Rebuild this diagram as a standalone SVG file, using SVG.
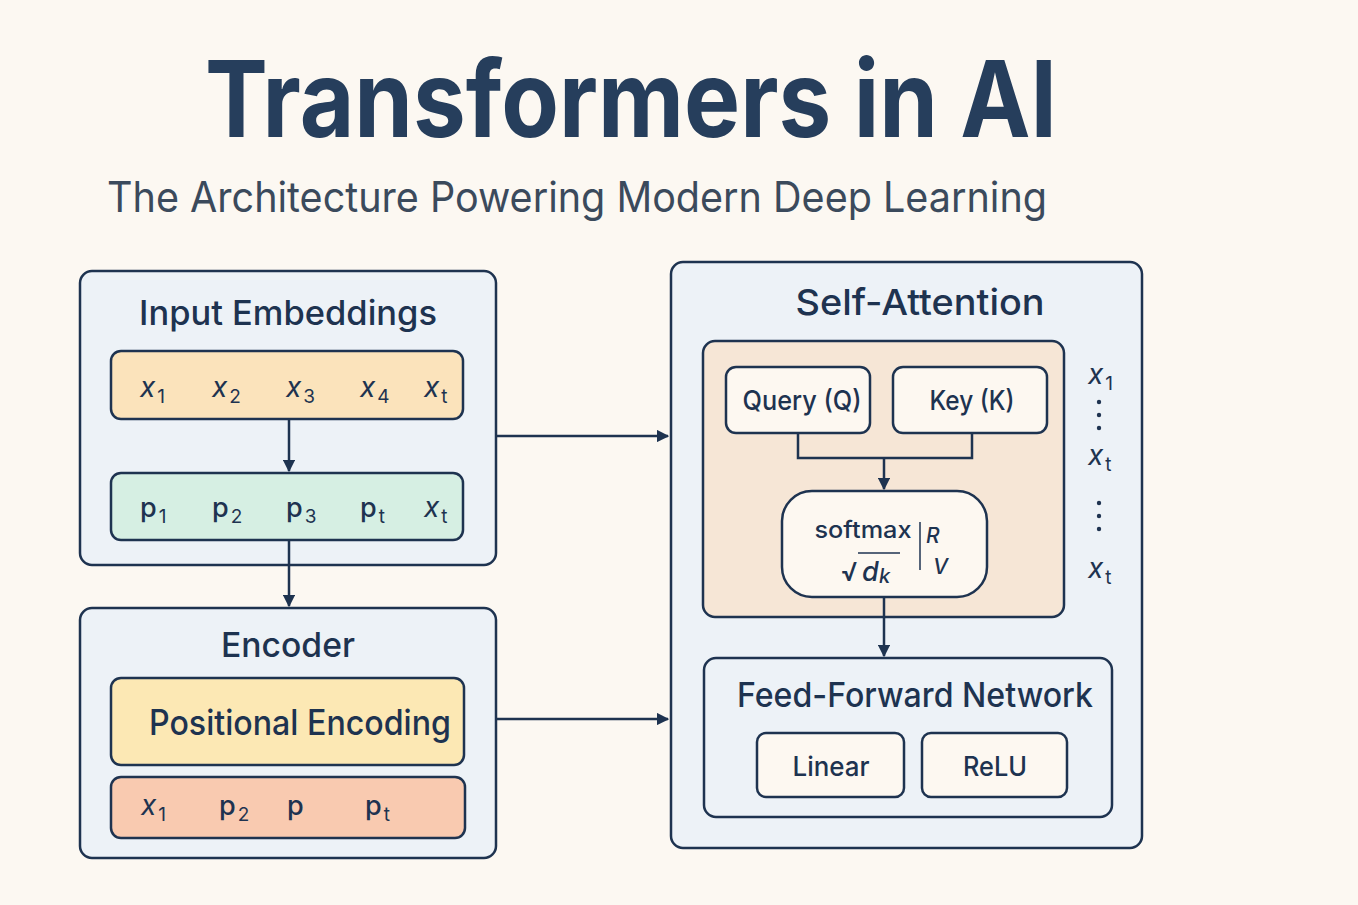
<svg xmlns="http://www.w3.org/2000/svg" width="1358" height="905" viewBox="0 0 1358 905">
<defs>
<marker id="arr" viewBox="0 0 10 10" refX="9" refY="5" markerWidth="5" markerHeight="5" orient="auto" markerUnits="strokeWidth">
<path d="M0,0 L10,5 L0,10 z" fill="#1e3350"/>
</marker>
<style>
.t{font-family:Inter,"Open Sans","Liberation Sans",sans-serif;fill:#1e3350;font-weight:500}
.panel{fill:#edf2f7;stroke:#1e3350;stroke-width:2.5}
.box{stroke:#1e3350;stroke-width:2.5}
.conn{stroke:#1e3350;stroke-width:2.5;fill:none}
.h{font-size:34px;text-anchor:middle}
.m{font-size:27px}
.var{font-size:28px;font-style:italic;font-weight:400}
.sub{font-size:19px;font-weight:400}
</style>
</defs>
<rect width="1358" height="905" fill="#fcf8f2"/>
<text class="t" x="631" y="137" font-size="106" text-anchor="middle" textLength="852" lengthAdjust="spacingAndGlyphs" style="fill:#263e5c;font-weight:700">Transformers in AI</text>
<text class="t" x="107" y="212" font-size="42" textLength="940" lengthAdjust="spacingAndGlyphs" style="fill:#3b4a5c;font-weight:400">The Architecture Powering Modern Deep Learning</text>

<g id="input-embeddings">
<rect class="panel" x="80" y="271" width="416" height="294" rx="12"/>
<text class="t h" x="288" y="325" textLength="298" lengthAdjust="spacingAndGlyphs">Input Embeddings</text>
<rect class="box" x="111" y="351" width="352" height="68" rx="10" fill="#fbe3bb"/>
<text class="t" y="397"><tspan class="var" x="140">x</tspan><tspan class="sub" dx="2" dy="6">1</tspan><tspan class="var" x="212" dy="-6">x</tspan><tspan class="sub" dx="2" dy="6">2</tspan><tspan class="var" x="286" dy="-6">x</tspan><tspan class="sub" dx="2" dy="6">3</tspan><tspan class="var" x="360" dy="-6">x</tspan><tspan class="sub" dx="2" dy="6">4</tspan><tspan class="var" x="424" dy="-6">x</tspan><tspan class="sub" dx="2" dy="6">t</tspan></text>
<rect class="box" x="111" y="473" width="352" height="67" rx="10" fill="#d6efe3"/>
<text class="t" y="517"><tspan class="m" x="140">p</tspan><tspan class="sub" dx="2" dy="6">1</tspan><tspan class="m" x="212" dy="-6">p</tspan><tspan class="sub" dx="2" dy="6">2</tspan><tspan class="m" x="286" dy="-6">p</tspan><tspan class="sub" dx="2" dy="6">3</tspan><tspan class="m" x="360" dy="-6">p</tspan><tspan class="sub" dx="2" dy="6">t</tspan><tspan class="var" x="424" dy="-6">x</tspan><tspan class="sub" dx="2" dy="6">t</tspan></text>
</g>

<g id="encoder">
<rect class="panel" x="80" y="608" width="416" height="250" rx="12"/>
<text class="t h" x="288" y="657" textLength="134" lengthAdjust="spacingAndGlyphs">Encoder</text>
<rect class="box" x="111" y="678" width="353" height="87" rx="10" fill="#fce8b4"/>
<text class="t" x="149" y="735" font-size="35" textLength="302" lengthAdjust="spacingAndGlyphs">Positional Encoding</text>
<rect class="box" x="111" y="777" width="354" height="61" rx="10" fill="#f9cab0"/>
<text class="t" y="815"><tspan class="var" x="141">x</tspan><tspan class="sub" dx="2" dy="6">1</tspan><tspan class="m" x="219" dy="-6">p</tspan><tspan class="sub" dx="2" dy="6">2</tspan><tspan class="m" x="287" dy="-6">p</tspan><tspan class="m" x="365">p</tspan><tspan class="sub" dx="2" dy="6">t</tspan></text>
</g>

<g id="self-attention">
<rect class="panel" x="671" y="262" width="471" height="586" rx="12"/>
<text class="t" x="920" y="315" font-size="36" text-anchor="middle" textLength="249" lengthAdjust="spacingAndGlyphs">Self-Attention</text>
<rect class="box" x="703" y="341" width="361" height="276" rx="12" fill="#f6e6d6"/>
<text class="t"><tspan class="var" x="1088" y="384">x</tspan><tspan class="sub" dx="2" dy="6">1</tspan></text>
<text class="t"><tspan class="var" x="1088" y="465">x</tspan><tspan class="sub" dx="2" dy="6">t</tspan></text>
<text class="t"><tspan class="var" x="1088" y="578">x</tspan><tspan class="sub" dx="2" dy="6">t</tspan></text>
<g fill="#1e3350">
<circle cx="1099" cy="402" r="2.2"/><circle cx="1099" cy="415" r="2.2"/><circle cx="1099" cy="428" r="2.2"/>
<circle cx="1099" cy="503" r="2.2"/><circle cx="1099" cy="516" r="2.2"/><circle cx="1099" cy="529" r="2.2"/>
</g>
</g>

<g id="query">
<rect class="box" x="726" y="367" width="144" height="66" rx="10" fill="#fdf8f1"/>
<text class="t m" x="802" y="410" text-anchor="middle" textLength="119" lengthAdjust="spacingAndGlyphs">Query (Q)</text>
</g>
<g id="key">
<rect class="box" x="893" y="367" width="154" height="66" rx="10" fill="#fdf8f1"/>
<text class="t m" x="972" y="410" text-anchor="middle" textLength="85" lengthAdjust="spacingAndGlyphs">Key (K)</text>
</g>
<g id="softmax">
<rect class="box" x="782" y="491" width="205" height="106" rx="30" fill="#fdf8f1"/>
<text class="t" x="863" y="538" font-size="24" text-anchor="middle" textLength="97" lengthAdjust="spacingAndGlyphs">softmax</text>
<text class="t" x="841" y="581" font-size="26">√</text>
<line x1="858" y1="553" x2="900" y2="553" stroke="#1e3350" stroke-width="1.5"/>
<text class="t" x="862" y="581" font-size="27" font-style="italic" font-weight="400">d</text>
<text class="t" x="879" y="583" font-size="20" font-style="italic" font-weight="400">k</text>
<line x1="920" y1="522" x2="920" y2="570" stroke="#1e3350" stroke-width="1.5"/>
<text class="t" x="926" y="543" font-size="21" font-style="italic">R</text>
<text class="t" x="933" y="574" font-size="21" font-style="italic">V</text>
</g>

<g id="feed-forward">
<rect class="box" x="704" y="658" width="408" height="159" rx="12" fill="#edf2f7"/>
<text class="t" x="915" y="707" font-size="34" text-anchor="middle" textLength="356" lengthAdjust="spacingAndGlyphs">Feed-Forward Network</text>
</g>
<g id="linear">
<rect class="box" x="757" y="733" width="147" height="64" rx="9" fill="#fdf8f1"/>
<text class="t m" x="831" y="776" text-anchor="middle" textLength="77" lengthAdjust="spacingAndGlyphs">Linear</text>
</g>
<g id="relu">
<rect class="box" x="922" y="733" width="145" height="64" rx="9" fill="#fdf8f1"/>
<text class="t m" x="995" y="776" text-anchor="middle" textLength="64" lengthAdjust="spacingAndGlyphs">ReLU</text>
</g>

<g id="connectors">
<line class="conn" x1="289" y1="420" x2="289" y2="471" marker-end="url(#arr)"/>
<line class="conn" x1="289" y1="541" x2="289" y2="606" marker-end="url(#arr)"/>
<line class="conn" x1="497" y1="436" x2="668" y2="436" marker-end="url(#arr)"/>
<line class="conn" x1="497" y1="719" x2="668" y2="719" marker-end="url(#arr)"/>
<polyline class="conn" points="798,434 798,458 972,458 972,434"/>
<line class="conn" x1="884" y1="458" x2="884" y2="489" marker-end="url(#arr)"/>
<line class="conn" x1="884" y1="598" x2="884" y2="656" marker-end="url(#arr)"/>
</g>
</svg>
